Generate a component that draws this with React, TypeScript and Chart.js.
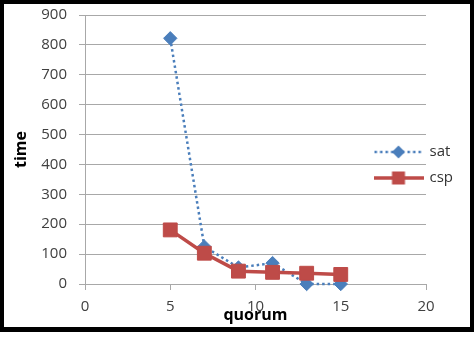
import React, { useEffect, useRef } from "react";
import { Chart, registerables } from "chart.js";

Chart.register(...registerables);

const quorum = [5, 7, 9, 11, 13, 15];
const satTime = [822, 125, 55, 70, 0, 0];
const cspTime = [181, 103, 43, 39, 36, 32];
const seriesLabels = ["sat", "csp"];
const xTickValues = [0, 5, 10, 15, 20];
const yTickValues = [0, 100, 200, 300, 400, 500, 600, 700, 800, 900];
const xTitle = "quorum";
const yTitle = "time";

const BLUE = "#4a7ebb";
const RED = "#be4b48";
const GRID = "#a8a8a8";
const TICK_COLOR = "#404040";
const FONT = "'Open Sans', 'DejaVu Sans', sans-serif";

function makeIcon(kind: "sat" | "csp"): HTMLCanvasElement {
  const c = document.createElement("canvas");
  c.width = 50;
  c.height = 18;
  const ctx = c.getContext("2d")!;
  const cy = 9;
  if (kind === "sat") {
    ctx.strokeStyle = BLUE;
    ctx.lineWidth = 2.5;
    ctx.setLineDash([2.5, 3]);
    ctx.beginPath();
    ctx.moveTo(1, cy);
    ctx.lineTo(48, cy);
    ctx.stroke();
    ctx.setLineDash([]);
    ctx.fillStyle = BLUE;
    ctx.beginPath();
    ctx.moveTo(25, cy - 6.5);
    ctx.lineTo(31.5, cy);
    ctx.lineTo(25, cy + 6.5);
    ctx.lineTo(18.5, cy);
    ctx.closePath();
    ctx.fill();
  } else {
    ctx.strokeStyle = RED;
    ctx.lineWidth = 3.5;
    ctx.beginPath();
    ctx.moveTo(0, cy);
    ctx.lineTo(50, cy);
    ctx.stroke();
    ctx.fillStyle = RED;
    ctx.fillRect(18.5, cy - 6.5, 13, 13);
  }
  return c;
}

const legendPlacer = {
  id: "legendPlacer",
  afterLayout(chart: any) {
    const lg = chart.legend;
    if (!lg) return;
    lg.left = 360;
    lg.top = 129.5;
    lg.width = 110;
    lg.height = 70;
    lg.right = lg.left + lg.width;
    lg.bottom = lg.top + lg.height;
  },
};

export default function App() {
  const ref = useRef<HTMLCanvasElement | null>(null);

  useEffect(() => {
    if (!ref.current) return;
    const icons = [makeIcon("sat"), makeIcon("csp")];
    const chart = new Chart(ref.current, {
      type: "line",
      data: {
        datasets: [
          {
            label: seriesLabels[0],
            data: quorum.map((q, i) => ({ x: q, y: satTime[i] })),
            borderColor: BLUE,
            backgroundColor: BLUE,
            borderWidth: 2.5,
            borderDash: [2.5, 3],
            pointStyle: "rectRot",
            pointRadius: 6.7,
            pointBackgroundColor: BLUE,
            pointBorderColor: BLUE,
            pointBorderWidth: 1,
            tension: 0,
            clip: false,
            order: 1,
          },
          {
            label: seriesLabels[1],
            data: quorum.map((q, i) => ({ x: q, y: cspTime[i] })),
            borderColor: RED,
            backgroundColor: RED,
            borderWidth: 3.5,
            pointStyle: "rect",
            pointRadius: 9.8,
            pointBackgroundColor: RED,
            pointBorderColor: RED,
            pointBorderWidth: 1,
            tension: 0,
            clip: false,
            order: 0,
          },
        ],
      },
      options: {
        animation: false,
        responsive: false,
        devicePixelRatio: 1,
        layout: { padding: { top: 11, right: 44, bottom: 0, left: 0 } },
        scales: {
          x: {
            type: "linear",
            min: 0,
            max: 20,
            afterBuildTicks: (s: any) => {
              s.ticks = xTickValues.map((v) => ({ value: v }));
            },
            ticks: {
              font: { family: FONT, size: 15 },
              color: TICK_COLOR,
              padding: 8,
              maxRotation: 0,
            },
            grid: {
              drawOnChartArea: false,
              drawTicks: true,
              tickLength: 6,
              color: GRID,
            },
            border: { color: GRID },
            title: {
              display: true,
              text: xTitle,
              font: { family: FONT, size: 16, weight: "bold" },
              color: "#000",
              padding: { top: 0, bottom: 2 },
            },
            afterFit: (s: any) => {
              s.height = 43;
              s.paddingLeft = 0;
              s.paddingRight = 0;
            },
          },
          y: {
            min: 0,
            max: 900,
            afterBuildTicks: (s: any) => {
              s.ticks = yTickValues.map((v) => ({ value: v }));
            },
            ticks: {
              font: { family: FONT, size: 15 },
              color: TICK_COLOR,
              padding: 12,
            },
            grid: { color: GRID, tickLength: 6 },
            border: { color: GRID },
            title: {
              display: true,
              text: yTitle,
              font: { family: FONT, size: 16, weight: "bold" },
              color: "#000",
              padding: { top: 8, bottom: 0 },
            },
            afterFit: (s: any) => {
              s.width = 81;
              s.paddingTop = 0;
              s.paddingBottom = 0;
            },
          },
        },
        plugins: {
          tooltip: { enabled: false },
          legend: {
            display: true,
            position: "chartArea" as any,
            align: "start",
            labels: {
              usePointStyle: true,
              pointStyleWidth: 47,
              padding: 11,
              font: { family: FONT, size: 15 },
              color: "#333",
              generateLabels: (c: any) =>
                c.data.datasets.map((ds: any, i: number) => ({
                  text: ds.label,
                  pointStyle: icons[i],
                  fillStyle: "transparent",
                  strokeStyle: "transparent",
                  lineWidth: 0,
                  hidden: false,
                  datasetIndex: i,
                  fontColor: "#333",
                })),
            },
          },
        },
      },
      plugins: [legendPlacer],
    });
    return () => chart.destroy();
  }, []);

  return (
    <div
      style={{
        position: "fixed",
        left: 0,
        top: 0,
        width: 474,
        height: 355,
        background: "#fff",
      }}
    >
      <div
        style={{
          position: "absolute",
          left: 0,
          top: 0,
          width: 474,
          height: 332,
          boxSizing: "border-box",
          borderStyle: "solid",
          borderColor: "#000",
          borderWidth: "4px 4px 5px 4px",
          background: "#fff",
        }}
      >
        <canvas
          ref={ref}
          width={466}
          height={323}
          style={{ display: "block", width: 466, height: 323 }}
        />
      </div>
    </div>
  );
}
